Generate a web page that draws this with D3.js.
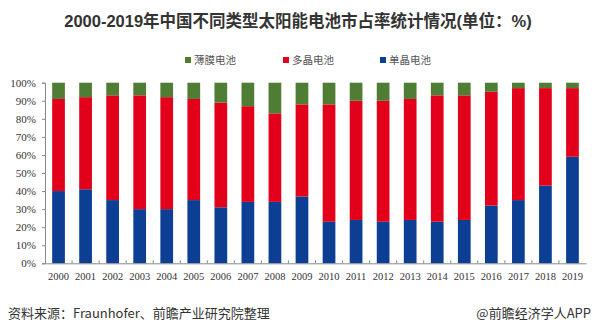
<!DOCTYPE html>
<html><head><meta charset="utf-8">
<script src="https://cdn.jsdelivr.net/npm/d3@7"></script>
<style>
html,body{margin:0;padding:0;background:#fff;}
svg{display:block;}
</style></head>
<body>
<svg id="c" width="597" height="331"></svg>
<script>
const years = ["2000","2001","2002","2003","2004","2005","2006","2007","2008","2009","2010","2011","2012","2013","2014","2015","2016","2017","2018","2019"];
const mono = [40,41,35,30,30,35,31,34,34,37,23,24,23,24,23,24,32,35,43,59];
const poly = [51,51,58,63,62,56,58,53,49,51,65,66,67,67,70,69,63,62,54,38];
const thin = [9,8,7,7,8,9,11,13,17,12,12,10,10,9,7,7,5,3,3,3];
const seriesNames = ["薄膜电池","多晶电池","单晶电池"];
const seriesKeys = ["thin","poly","mono"];
const colors = {thin:"#4e7d33", poly:"#e2001a", mono:"#0c3f94"};
const yTicks = [0,10,20,30,40,50,60,70,80,90,100];
const titleText = "2000-2019年中国不同类型太阳能电池市占率统计情况(单位：%)";
const sourceText = "资料来源：Fraunhofer、前瞻产业研究院整理";
const brandText = "@前瞻经济学人APP";

const rows = years.map((y,i)=>({year:y, mono:mono[i], poly:poly[i], thin:thin[i]}));
const svg = d3.select("#c");
const m = {l:45, r:586, t:82.7, b:263.3};
const x = d3.scaleBand().domain(years).range([m.l, m.r]).paddingInner(0.53).paddingOuter(0.265);
const y = d3.scaleLinear().domain([0,100]).range([m.b, m.t]);

// title
svg.append("text").attr("x",298).attr("y",27).attr("text-anchor","middle")
  .attr("font-family","'Liberation Sans','Noto Sans CJK SC',sans-serif").attr("font-weight","bold")
  .attr("font-size",16.5).attr("fill","#333").text(titleText);

// legend
const legendX = [185,283,380];
["thin","poly","mono"].forEach((k,i)=>{
  const g = svg.append("g").attr("transform",`translate(${legendX[i]},60)`);
  g.append("rect").attr("x",0).attr("y",-3).attr("width",6).attr("height",6).attr("fill",colors[k]);
  g.append("text").attr("x",9).attr("y",4).attr("font-family","'Noto Sans CJK SC',sans-serif")
    .attr("font-size",10.5).attr("fill","#555").text(seriesNames[i]);
});

// stacked bars
const stack = d3.stack().keys(["mono","poly","thin"]);
const layers = stack(rows);
svg.append("g").selectAll("g").data(layers).join("g").attr("fill",d=>colors[d.key])
  .selectAll("rect").data(d=>d).join("rect")
  .attr("x",d=>x(d.data.year)).attr("width",x.bandwidth())
  .attr("y",d=>y(d[1])).attr("height",d=>y(d[0])-y(d[1]));

// y axis
const ya = svg.append("g").attr("transform",`translate(${m.l},0)`)
  .call(d3.axisLeft(y).tickValues(yTicks).tickFormat(d=>d+"%").tickSize(3).tickPadding(6));
ya.select(".domain").attr("stroke","#888");
ya.selectAll(".tick line").attr("stroke","#888");
ya.selectAll("text").attr("font-family","'Liberation Serif',serif").attr("font-size",11).attr("fill","#333");

// x axis
const xa = svg.append("g").attr("transform",`translate(0,${m.b})`)
  .call(d3.axisBottom(x).tickSize(0).tickPadding(9));
xa.select(".domain").attr("stroke","#888");
xa.selectAll("text").attr("font-family","'Liberation Serif',serif").attr("font-size",10.5).attr("fill","#333");
// small separator ticks between categories
const step = x.step();
svg.append("g").selectAll("line").data(years.slice(1)).join("line")
  .attr("x1",d=>x(d)-(step-x.bandwidth())/2).attr("x2",d=>x(d)-(step-x.bandwidth())/2)
  .attr("y1",m.b).attr("y2",m.b-3).attr("stroke","#888");

// footer
svg.append("text").attr("x",8).attr("y",318).attr("font-family","'Noto Sans CJK SC',sans-serif")
  .attr("font-size",13).attr("fill","#333").text(sourceText);
svg.append("text").attr("x",591).attr("y",318).attr("text-anchor","end").attr("font-family","'Noto Sans CJK SC',sans-serif")
  .attr("font-size",13).attr("fill","#333").text(brandText);
</script>
</body></html>
